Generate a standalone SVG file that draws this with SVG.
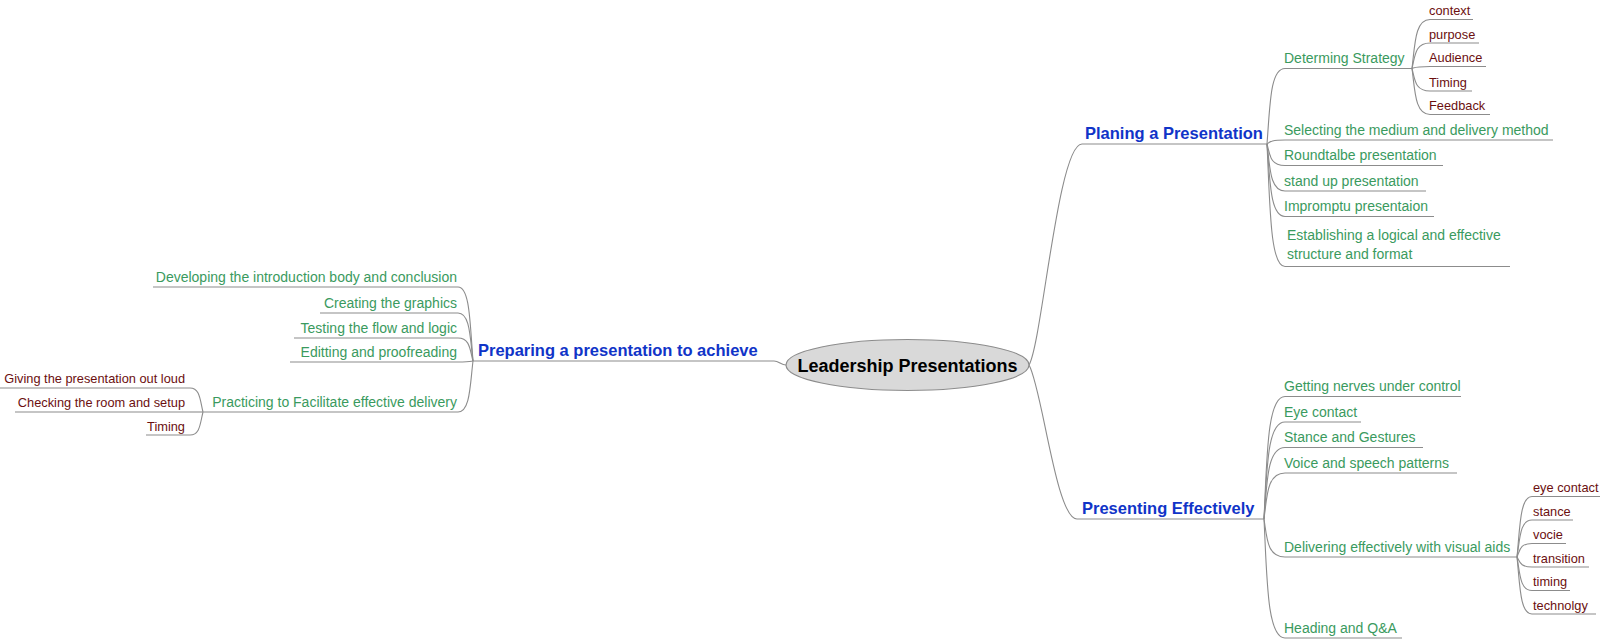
<svg xmlns="http://www.w3.org/2000/svg" width="1600" height="640" viewBox="0 0 1600 640">
<style>
text{font-family:"Liberation Sans",Arial,sans-serif}
.c{fill:none;stroke:#8c8c8c;stroke-width:1.1}
.u{fill:none;stroke:#8c8c8c;stroke-width:1.1}
.main{font-size:16.5px;font-weight:bold;fill:#1034c8}
.sub{font-size:14px;fill:#3a9a5e}
.leaf{font-size:12.8px;fill:#6b0f0f}
.root{font-size:18px;font-weight:bold;fill:#000}
</style>
<rect width="1600" height="640" fill="#fff"/>
<g id="connectors">
<path class="c" d="M1029 365 C1042 343 1058 144 1082 144"/>
<path class="c" d="M1029 365 C1042 387 1056 519 1077 519"/>
<path class="c" d="M774 361 C779 361 781 365 786 365"/>
<path class="c" d="M1267 144 C1270 106 1270 68.5 1285 68.5"/>
<path class="c" d="M1267 144 C1270 142 1270 140 1285 140"/>
<path class="c" d="M1267 144 C1270 155 1270 165.5 1285 165.5"/>
<path class="c" d="M1267 144 C1270 168 1270 191 1285 191"/>
<path class="c" d="M1267 144 C1270 180 1270 216.5 1285 216.5"/>
<path class="c" d="M1267 144 C1270 205 1270 266.5 1285 266.5"/>
<path class="c" d="M1412 68.5 C1415 44 1415 19.5 1430 19.5"/>
<path class="c" d="M1412 68.5 C1415 56 1415 43 1430 43"/>
<path class="c" d="M1412 68.5 C1415 67.5 1415 66.5 1430 66.5"/>
<path class="c" d="M1412 68.5 C1415 80 1415 91 1430 91"/>
<path class="c" d="M1412 68.5 C1415 91 1415 114.5 1430 114.5"/>
<path class="c" d="M1264 519 C1267 458 1267 396.5 1285 396.5"/>
<path class="c" d="M1264 519 C1267 470 1267 422 1285 422"/>
<path class="c" d="M1264 519 C1267 483 1267 447.5 1285 447.5"/>
<path class="c" d="M1264 519 C1267 496 1267 473 1285 473"/>
<path class="c" d="M1264 519 C1267 538 1267 557 1285 557"/>
<path class="c" d="M1264 519 C1267 578 1267 638 1285 638"/>
<path class="c" d="M1517 557 C1520 527 1520 496.5 1532 496.5"/>
<path class="c" d="M1517 557 C1520 538 1520 520 1532 520"/>
<path class="c" d="M1517 557 C1520 550 1520 543.5 1532 543.5"/>
<path class="c" d="M1517 557 C1520 562 1520 567 1532 567"/>
<path class="c" d="M1517 557 C1520 574 1520 590.5 1532 590.5"/>
<path class="c" d="M1517 557 C1520 586 1520 614 1532 614"/>
<path class="c" d="M473 361 C470 324 470 287 458 287"/>
<path class="c" d="M473 361 C470 337 470 313 458 313"/>
<path class="c" d="M473 361 C470 350 470 338 458 338"/>
<path class="c" d="M473 361 C470 361.5 470 362 458 362"/>
<path class="c" d="M473 361 C470 386 470 412 458 412"/>
<path class="c" d="M203 412 C200 400 200 388 190 388"/>
<path class="c" d="M203 412 C200 412 200 412 190 412"/>
<path class="c" d="M203 412 C200 424 200 435 190 435"/>
</g>
<g id="root">
<ellipse cx="907.5" cy="365" rx="121.5" ry="25.5" fill="#d9d9d9" stroke="#8c8c8c" stroke-width="1.2"/>
<text class="root" x="907.5" y="371.5" text-anchor="middle">Leadership Presentations</text>
</g>
<g id="planing">
<text class="main" x="1085" y="139">Planing a Presentation</text>
<path class="u" d="M1082 144 H1267"/>
</g>
<g id="determing">
<text class="sub" x="1284" y="63">Determing Strategy</text>
<path class="u" d="M1285 68.5 H1412"/>
</g>
<g id="context"><text class="leaf" x="1429" y="15">context</text><path class="u" d="M1430 19.5 H1473"/></g>
<g id="purpose"><text class="leaf" x="1429" y="38.5">purpose</text><path class="u" d="M1430 43 H1479"/></g>
<g id="audience"><text class="leaf" x="1429" y="62">Audience</text><path class="u" d="M1430 66.5 H1486"/></g>
<g id="timing1"><text class="leaf" x="1429" y="86.5">Timing</text><path class="u" d="M1430 91 H1472"/></g>
<g id="feedback"><text class="leaf" x="1429" y="110">Feedback</text><path class="u" d="M1430 114.5 H1490"/></g>
<g id="selecting"><text class="sub" x="1284" y="134.5">Selecting the medium and delivery method</text><path class="u" d="M1285 140 H1553"/></g>
<g id="roundtalbe"><text class="sub" x="1284" y="160">Roundtalbe presentation</text><path class="u" d="M1285 165.5 H1443"/></g>
<g id="standup"><text class="sub" x="1284" y="185.5">stand up presentation</text><path class="u" d="M1285 191 H1426"/></g>
<g id="impromptu"><text class="sub" x="1284" y="211">Impromptu presentaion</text><path class="u" d="M1285 216.5 H1434"/></g>
<g id="establishing">
<text class="sub" x="1287" y="239.5">Establishing a logical and effective</text>
<text class="sub" x="1287" y="258.5">structure and format</text>
<path class="u" d="M1285 266.5 H1510"/>
</g>
<g id="presenting">
<text class="main" x="1082" y="514">Presenting Effectively</text>
<path class="u" d="M1077 519 H1264"/>
</g>
<g id="nerves"><text class="sub" x="1284" y="391">Getting nerves under control</text><path class="u" d="M1285 396.5 H1461"/></g>
<g id="eyecontact"><text class="sub" x="1284" y="416.5">Eye contact</text><path class="u" d="M1285 422 H1361"/></g>
<g id="stance"><text class="sub" x="1284" y="442">Stance and Gestures</text><path class="u" d="M1285 447.5 H1423"/></g>
<g id="voice"><text class="sub" x="1284" y="467.5">Voice and speech patterns</text><path class="u" d="M1285 473 H1457"/></g>
<g id="delivering"><text class="sub" x="1284" y="551.5">Delivering effectively with visual aids</text><path class="u" d="M1285 557 H1517"/></g>
<g id="heading"><text class="sub" x="1284" y="632.5">Heading and Q&amp;A</text><path class="u" d="M1285 638 H1402"/></g>
<g id="d-eye"><text class="leaf" x="1533" y="492">eye contact</text><path class="u" d="M1532 496.5 H1602"/></g>
<g id="d-stance"><text class="leaf" x="1533" y="515.5">stance</text><path class="u" d="M1532 520 H1573"/></g>
<g id="d-vocie"><text class="leaf" x="1533" y="539">vocie</text><path class="u" d="M1532 543.5 H1566"/></g>
<g id="d-transition"><text class="leaf" x="1533" y="562.5">transition</text><path class="u" d="M1532 567 H1589"/></g>
<g id="d-timing"><text class="leaf" x="1533" y="586">timing</text><path class="u" d="M1532 590.5 H1570"/></g>
<g id="d-technolgy"><text class="leaf" x="1533" y="609.5">technolgy</text><path class="u" d="M1532 614 H1596"/></g>
<g id="preparing">
<text class="main" x="478" y="356">Preparing a presentation to achieve</text>
<path class="u" d="M473 361 H774"/>
</g>
<g id="developing"><text class="sub" x="457" y="282" text-anchor="end">Developing the introduction body and conclusion</text><path class="u" d="M153 287 H458"/></g>
<g id="creating"><text class="sub" x="457" y="307.5" text-anchor="end">Creating the graphics</text><path class="u" d="M320 313 H458"/></g>
<g id="testing"><text class="sub" x="457" y="332.5" text-anchor="end">Testing the flow and logic</text><path class="u" d="M294 338 H458"/></g>
<g id="editting"><text class="sub" x="457" y="357" text-anchor="end">Editting and proofreading</text><path class="u" d="M290 362 H458"/></g>
<g id="practicing"><text class="sub" x="457" y="406.5" text-anchor="end">Practicing to Facilitate effective delivery</text><path class="u" d="M203 412 H458"/></g>
<g id="giving"><text class="leaf" x="185" y="383" text-anchor="end">Giving the presentation out loud</text><path class="u" d="M0 388 H190"/></g>
<g id="checking"><text class="leaf" x="185" y="407" text-anchor="end">Checking the room and setup</text><path class="u" d="M15 412 H190"/></g>
<g id="timing2"><text class="leaf" x="185" y="430.5" text-anchor="end">Timing</text><path class="u" d="M146 435 H190"/></g>
</svg>
